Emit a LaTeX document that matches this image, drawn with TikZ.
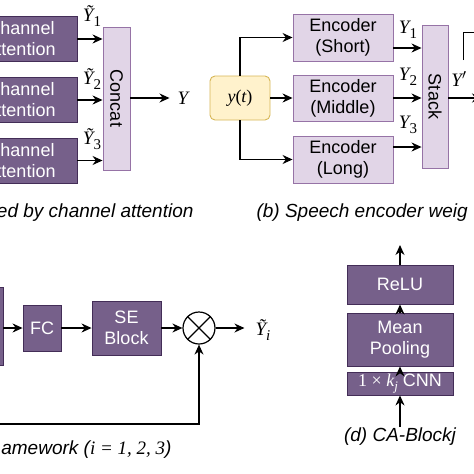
\documentclass[tikz,border=0pt]{standalone}
\usepackage{fontspec}
\setmainfont{Liberation Sans}
\newfontfamily\timesfont{Liberation Serif}
\usetikzlibrary{arrows.meta,positioning}
\definecolor{darkpurple}{HTML}{76608A}
\definecolor{darkedge}{HTML}{432D57}
\definecolor{lightpurple}{HTML}{E1D5E7}
\definecolor{lightedge}{HTML}{9673A6}
\definecolor{yellowfill}{HTML}{FFF2CC}
\definecolor{yellowedge}{HTML}{D6B656}
% italic serif symbol with a lowered subscript
\newcommand{\symb}[2]{{\timesfont\itshape #1}\raisebox{-5pt}{\fontsize{15}{15}\selectfont\timesfont #2}}

\begin{document}
\begin{tikzpicture}[x=1pt,y=-1pt,
  darkbox/.style={draw=darkedge,fill=darkpurple,text=white,line width=0.9pt,inner sep=0pt,align=center,font=\fontsize{18}{21}\selectfont},
  lightbox/.style={draw=lightedge,fill=lightpurple,line width=0.9pt,inner sep=0pt,align=center,font=\fontsize{18}{21}\selectfont},
  inbox/.style={draw=yellowedge,fill=yellowfill,rounded corners=5pt,line width=0.9pt,inner sep=0pt,minimum width=60pt,minimum height=44pt,font=\fontsize{18}{21}\selectfont},
  vtext/.style={rotate=-90,font=\fontsize{18}{21}\selectfont},
  flow/.style={-{Stealth[length=10pt,width=9pt]},line width=1.2pt},
  sig/.style={inner sep=0pt,font=\fontsize{19}{19}\selectfont},
  caption/.style={font=\fontsize{19}{22}\selectfont\itshape}]
  \useasboundingbox (0,0) rectangle (474,474);
  \clip (0,0) rectangle (474,474);

  % (a) channel attention branches and concat
  \node[darkbox,minimum width=112pt,minimum height=45pt] (ca1) at (21,39) {Channel\\attention};
  \node[darkbox,minimum width=112pt,minimum height=45pt] (ca2) at (21,100) {Channel\\attention};
  \node[darkbox,minimum width=112pt,minimum height=45pt] (ca3) at (21,160.5) {Channel\\attention};
  \node[lightbox,minimum width=27pt,minimum height=143pt] (concat) at (116.5,98.5) {};
  \node[vtext] (concattext) at (concat.center) {Concat};
  \draw[flow] (ca1.east) -- (ca1.east -| concat.west);
  \draw[flow] (ca2.east) -- (ca2.east -| concat.west);
  \draw[flow] (ca3.east) -- (ca3.east -| concat.west);
  \node[sig] (ya1) at (92,16) {\symb{Ỹ}{1}};
  \node[sig] (ya2) at (92,79) {\symb{Ỹ}{2}};
  \node[sig] (ya3) at (92,139) {\symb{Ỹ}{3}};
  \node[sig] (yvec) at (183,98) {{\timesfont\itshape Y}};
  \draw[flow,shorten >=8pt] (concat.east |- yvec) -- (yvec.west);

  % (b) speech encoders
  \node[inbox] (yt) at (240,98) {{\timesfont\itshape y}{\timesfont(}{\timesfont\itshape t}{\timesfont)}};
  \node[lightbox,minimum width=100pt,minimum height=47pt] (enc1) at (343,37.5) {Encoder\\(Short)};
  \node[lightbox,minimum width=100pt,minimum height=46pt] (enc2) at (343,98) {Encoder\\(Middle)};
  \node[lightbox,minimum width=100pt,minimum height=47pt] (enc3) at (343,159.5) {Encoder\\(Long)};
  \node[lightbox,minimum width=26pt,minimum height=143pt] (stack) at (435,96.5) {};
  \node[vtext] (stacktext) at (stack.center) {Stack};
  \draw[flow] (yt.north) |- (enc1.west);
  \draw[flow] (yt.east) -- (enc2.west);
  \draw[flow] (yt.south) |- (enc3.west);
  \coordinate (e1out) at ([yshift=-10.5pt]enc1.east);
  \coordinate (e3out) at ([yshift=12.5pt]enc3.east);
  \draw[flow] (e1out) -- (e1out -| stack.west);
  \draw[flow] (enc2.east) -- (enc2.east -| stack.west);
  \draw[flow] (e3out) -- (e3out -| stack.west);
  \node[sig] (yb1) at (408,30) {\symb{Y}{1}};
  \node[sig] (yb2) at (408,77) {\symb{Y}{2}};
  \node[sig] (yb3) at (408,125) {\symb{Y}{3}};
  \node[sig] (yprime) at (459,79) {{\timesfont\itshape Y}$'$};
  \coordinate (sout) at (482,98);
  \draw[flow] (stack.east |- sout) -- (sout);
  \coordinate (lstart) at (463,60);
  \coordinate (lend) at (480,32);
  \draw[line width=1pt] (lstart) |- (lend);

  % (c) framework
  \node[darkbox,minimum width=46pt,minimum height=78pt] (prev) at (-20,326) {};
  \node[darkbox,minimum width=38pt,minimum height=46pt] (fc) at (42,328) {FC};
  \node[darkbox,minimum width=69pt,minimum height=54pt] (se) at (126.5,328) {SE\\Block};
  \node[draw,circle,line width=1.2pt,minimum size=32pt,inner sep=0pt] (mul) at (199,328) {};
  \draw[line width=1.2pt] (mul.north east) -- (mul.south west) (mul.north west) -- (mul.south east);
  \node[sig] (yti) at (263,330) {{\timesfont\itshape Ỹ}\raisebox{-5pt}{\fontsize{15}{15}\selectfont\timesfont\itshape i}};
  \draw[flow] (prev.east |- fc) -- (fc.west);
  \draw[flow] (fc.east) -- (se.west);
  \draw[flow] (se.east) -- (mul.west);
  \draw[flow,shorten >=11pt] (mul.east) -- (mul.east -| yti.west);
  \coordinate (skip) at (-5,424);
  \draw[flow] (skip) -| (mul.south);

  % (d) CA-Block
  \node[darkbox,minimum width=106pt,minimum height=39pt] (relu) at (400,284.5) {ReLU};
  \node[darkbox,minimum width=106pt,minimum height=53pt] (pool) at (400,339.5) {Mean\\Pooling};
  \node[darkbox,minimum width=106pt,minimum height=23pt] (cnn) at (400,383.5) {{\timesfont 1 × \itshape k}\raisebox{-4pt}{\fontsize{13}{13}\selectfont\timesfont\itshape j} CNN};
  \coordinate (cnnin) at (400,427);
  \coordinate (reluout) at (400,245);
  \draw[flow] (cnnin) -- (cnn.south);
  \draw[flow] (cnn.north) -- (pool.south);
  \draw[flow] (pool.north) -- (relu.south);
  \draw[flow] (relu.north) -- (reluout);

  % captions
  \node[caption,anchor=east] (capa) at (197,213) {ed by channel attention};
  \node[caption,anchor=west] (capb) at (253,213) {(b) Speech encoder weig};
  \node[caption,anchor=east] (capc) at (175,450) {amework ({\timesfont\itshape i = 1, 2, 3})};
  \node[caption] (capd) at (400,437) {(d) CA-Blockj};
\end{tikzpicture}
\end{document}
